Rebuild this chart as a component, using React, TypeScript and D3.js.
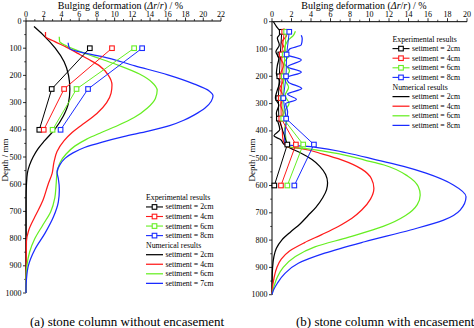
import React from "react";
import * as d3 from "d3";

// ---------- tick labels ----------
const xTicksA = [0, 2, 4, 6, 8, 10, 12, 14, 16, 18, 20, 22];
const xTicksB = [0, 2, 4, 6, 8, 10, 12, 14, 16, 18, 20];
const yTicks = [0, 100, 200, 300, 400, 500, 600, 700, 800, 900, 1000];

// ---------- panel (a) experimental: depth, and bulging per settlement ----------
const expDepthA = [100, 250, 400];
const expA2 = [7.2, 2.9, 1.5];
const expA4 = [9.7, 4.3, 2.0];
const expA6 = [12.2, 5.7, 3.0];
const expA8 = [13.1, 7.0, 3.9];

// ---------- panel (a) numerical: [depth, bulging] ----------
const numA2: [number, number][] = [[20,0.9],[50,1.9],[100,3.3],[150,4.3],[200,4.8],[250,4.95],[300,4.8],[350,4.2],[400,3.2],[440,2.1],[470,1.35],[500,0.8],[530,0.4],[560,0.15],[600,0.05],[650,0.01],[1000,0]];
const numA4: [number, number][] = [[40,2.2],[57,2.2],[75,3.2],[95,4.5],[120,5.9],[140,7.0],[165,8.3],[200,9.3],[235,9.7],[265,9.6],[300,9.1],[340,8.0],[380,6.4],[410,5.2],[440,4.3],[480,3.5],[520,3.15],[560,2.95],[600,2.5],[660,1.9],[720,1.0],[770,0.3],[810,0.05],[1000,0]];
const numA6: [number, number][] = [[58,3.75],[76,3.8],[92,4.6],[110,5.9],[130,7.6],[160,10.2],[195,12.8],[225,14.2],[255,14.8],[285,14.6],[320,13.7],[355,12.2],[385,10.3],[410,8.5],[435,6.8],[460,5.5],[490,4.5],[520,3.85],[560,3.5],[600,3.4],[650,3.25],[700,2.8],[750,1.9],[800,1.0],[850,0.4],[900,0.1],[940,0.01],[1000,0]];
const numA7: [number, number][] = [[80,4.75],[100,4.9],[112,5.8],[130,8.5],[165,12.3],[198,16.0],[232,19.0],[258,20.7],[275,21.1],[295,20.9],[320,20.2],[345,19.0],[365,17.8],[385,16.2],[405,13.8],[425,11.0],[445,8.6],[465,6.6],[485,5.3],[505,4.4],[530,3.8],[555,3.5],[580,3.65],[620,3.76],[665,3.65],[720,3.1],[780,2.15],[840,1.0],[900,0.26],[950,0.05],[980,0],[1000,0]];

// ---------- panel (b) experimental ----------
const expDepthB = [37, 120, 200, 280, 355, 450, 600];
const expB2 = [1.0, 0.85, 0.75, 0.65, 0.7, 1.57, 0.24];
const expB4 = [1.25, 1.0, 1.05, 0.9, 0.95, 2.45, 0.92];
const expB6 = [1.45, 1.3, 1.2, 1.1, 1.15, 3.2, 1.57];
const expB8 = [1.77, 1.5, 1.44, 1.16, 1.45, 4.3, 2.29];

// ---------- panel (b) numerical ----------
const numB2: [number, number][] = [[0,0.15],[20,0.5],[40,0.9],[60,0.55],[85,0.75],[110,0.4],[135,0.7],[160,0.55],[190,0.45],[220,0.8],[250,0.55],[280,0.35],[305,0.7],[335,0.45],[365,0.6],[395,0.8],[418,0.2],[432,0.9],[448,1.2],[462,1.8],[480,2.9],[505,4.1],[530,4.9],[560,5.5],[590,5.7],[615,5.6],[645,5.2],[680,4.5],[710,3.7],[740,2.9],[770,1.9],[800,1.0],[830,0.45],[860,0.2],[900,0.06],[950,0.01],[1000,0]];
const numB4: [number, number][] = [[25,1.2],[50,1.5],[75,1.0],[100,1.3],[130,0.85],[160,1.2],[190,0.9],[215,1.15],[245,0.8],[275,1.2],[305,0.9],[335,1.15],[365,0.85],[395,1.05],[425,1.1],[448,1.3],[458,1.5],[465,3.0],[485,5.2],[507,7.2],[540,9.2],[575,10.2],[610,10.45],[650,10.1],[690,9.2],[720,8.2],[750,6.8],[780,5.1],[810,3.3],[840,1.8],[870,0.95],[900,0.5],[940,0.2],[980,0.03],[1000,0]];
const numB6: [number, number][] = [[35,2.4],[50,2.2],[70,1.6],[100,1.3],[125,1.7],[150,1.25],[180,1.8],[210,1.3],[240,1.7],[270,1.35],[300,1.75],[330,1.3],[360,1.55],[390,1.3],[420,1.4],[448,1.5],[458,1.7],[465,3.5],[485,7.0],[507,9.5],[525,11.5],[565,13.9],[604,15.0],[635,15.2],[670,14.9],[710,13.7],[750,11.4],[790,7.8],[825,4.4],[860,2.4],[900,1.15],[935,0.55],[970,0.2],[1000,0]];
const numB8: [number, number][] = [[50,3.0],[62,3.1],[85,3.0],[100,1.8],[120,1.55],[140,3.0],[165,1.6],[185,3.0],[205,1.5],[222,1.7],[245,3.05],[265,1.6],[285,2.5],[300,1.4],[330,1.6],[360,1.5],[400,1.35],[430,1.3],[450,1.4],[460,4.5],[480,7.6],[507,10.8],[530,13.5],[555,15.8],[598,18.6],[641,19.9],[690,19.3],[727,17.6],[763,14.2],[806,9.5],[848,5.4],[885,2.7],[922,1.33],[958,0.55],[995,0.03],[1000,0]];

const expLabelsA = ["settment = 2cm", "settment = 4cm", "settment = 6cm", "settment = 8cm"];
const numLabelsA = ["settment = 2cm", "settment = 4cm", "settment = 6cm", "settment = 7cm"];
const numLabelsB = ["settment = 2cm", "settment = 4cm", "settment = 6cm", "settment = 8cm"];

const COLORS = ["#000000", "#ff1a1a", "#66ee22", "#1a2bff"];
const FONT = "'Liberation Serif', 'Times New Roman', serif";

type Pt = [number, number];

interface PanelProps {
  xMax: number;
  xTicks: number[];
  xRange: [number, number];
  yRange: [number, number];
  exp: number[][];
  expDepth: number[];
  num: Pt[][];
  expLabels: string[];
  numLabels: string[];
  legendX: number;
  legendY: number;
  legendStep: number;
  titleX: number;
  yLabelX: number;
  caption: string;
  captionX: number;
}

function Panel(p: PanelProps) {
  const x = d3.scaleLinear().domain([0, p.xMax]).range(p.xRange);
  const y = d3.scaleLinear().domain([0, 1000]).range(p.yRange);
  const x0 = p.xRange[0];
  const y0 = p.yRange[0];
  const line = d3
    .line<Pt>()
    .x((d) => x(d[1]))
    .y((d) => y(d[0]))
    .curve(d3.curveMonotoneY);
  const lineLin = d3
    .line<Pt>()
    .x((d) => x(d[1]))
    .y((d) => y(d[0]));
  const minor: number[] = [];
  for (let v = 1; v < p.xMax; v += 2) minor.push(v);
  const yMinor = [50, 150, 250, 350, 450, 550, 650, 750, 850, 950];
  const sq = 4.6;
  const lx = p.legendX;
  return (
    <g>
      {/* title */}
      <text x={p.titleX} y={9} fontSize={10} textAnchor="middle" fontFamily={FONT}>
        Bulging deformation (<tspan fontStyle="italic">Δr</tspan>/<tspan fontStyle="italic">r</tspan>) / %
      </text>
      {/* y label */}
      <text
        transform={`translate(${p.yLabelX},160) rotate(-90)`}
        fontSize={9}
        textAnchor="middle"
        dominantBaseline="central"
        fontFamily={FONT}
      >
        Depth / mm
      </text>
      {/* axes */}
      <line x1={x0} x2={p.xRange[1]} y1={y0} y2={y0} stroke="#000" strokeWidth={1} />
      <line x1={x0} x2={x0} y1={y0} y2={p.yRange[1]} stroke="#000" strokeWidth={1} />
      {p.xTicks.map((t) => (
        <g key={"xt" + t}>
          <line x1={x(t)} x2={x(t)} y1={y0} y2={y0 - 3.5} stroke="#000" strokeWidth={0.8} />
          <text x={x(t)} y={17} fontSize={8} textAnchor="middle" fontFamily={FONT}>
            {t}
          </text>
        </g>
      ))}
      {minor.map((t) => (
        <line key={"xm" + t} x1={x(t)} x2={x(t)} y1={y0} y2={y0 - 2} stroke="#000" strokeWidth={0.7} />
      ))}
      {yTicks.map((t) => (
        <g key={"yt" + t}>
          <line x1={x0} x2={x0 - 3} y1={y(t)} y2={y(t)} stroke="#000" strokeWidth={0.8} />
          <text x={x0 - 4.5} y={y(t)} fontSize={8} textAnchor="end" dominantBaseline="central" fontFamily={FONT}>
            {t}
          </text>
        </g>
      ))}
      {yMinor.map((t) => (
        <line key={"ym" + t} x1={x0} x2={x0 - 1.8} y1={y(t)} y2={y(t)} stroke="#000" strokeWidth={0.7} />
      ))}
      {/* numerical curves */}
      {p.num.map((s, i) => (
        <path key={"n" + i} d={line(s) || ""} fill="none" stroke={COLORS[i]} strokeWidth={1.25} />
      ))}
      {/* experimental */}
      {p.exp.map((vals, i) => {
        const pts: Pt[] = vals.map((v, j) => [p.expDepth[j], v]);
        return (
          <g key={"e" + i}>
            <path d={lineLin(pts) || ""} fill="none" stroke={COLORS[i]} strokeWidth={1} />
            {pts.map((d, j) => (
              <rect
                key={j}
                x={x(d[1]) - sq / 2}
                y={y(d[0]) - sq / 2}
                width={sq}
                height={sq}
                fill="#fff"
                stroke={COLORS[i]}
                strokeWidth={1.1}
              />
            ))}
          </g>
        );
      })}
      {/* legend */}
      <g fontFamily={FONT} fontSize={7.8}>
        <text x={lx} y={p.legendY} dominantBaseline="central">Experimental results</text>
        {p.expLabels.map((l, i) => {
          const yy = p.legendY + (i + 1) * p.legendStep;
          return (
            <g key={"le" + i}>
              <line x1={lx} x2={lx + 17} y1={yy} y2={yy} stroke={COLORS[i]} strokeWidth={1.1} />
              <rect x={lx + 8.5 - sq / 2} y={yy - sq / 2} width={sq} height={sq} fill="#fff" stroke={COLORS[i]} strokeWidth={1.1} />
              <text x={lx + 19.5} y={yy} dominantBaseline="central">{l}</text>
            </g>
          );
        })}
        <text x={lx} y={p.legendY + 5 * p.legendStep} dominantBaseline="central">Numerical results</text>
        {p.numLabels.map((l, i) => {
          const yy = p.legendY + (i + 6) * p.legendStep;
          return (
            <g key={"ln" + i}>
              <line x1={lx} x2={lx + 17} y1={yy} y2={yy} stroke={COLORS[i]} strokeWidth={1.25} />
              <text x={lx + 19.5} y={yy} dominantBaseline="central">{l}</text>
            </g>
          );
        })}
      </g>
      <text x={p.captionX} y={325.5} fontSize={13} fontFamily={FONT}>
        {p.caption}
      </text>
    </g>
  );
}

export default function App() {
  return (
    <div style={{ position: "absolute", left: 0, top: 0, width: 474, height: 328, background: "#fff" }}>
      <svg width={474} height={328} viewBox="0 0 474 328" style={{ display: "block" }}>
        <rect width={474} height={328} fill="#fff" />
        <Panel
          xMax={22}
          xTicks={xTicksA}
          xRange={[26, 221]}
          yRange={[21, 293]}
          exp={[expA2, expA4, expA6, expA8]}
          expDepth={expDepthA}
          num={[numA2, numA4, numA6, numA7]}
          expLabels={expLabelsA}
          numLabels={numLabelsA}
          legendX={146}
          legendY={197.4}
          legendStep={9.55}
          titleX={120.5}
          yLabelX={5}
          caption="(a) stone column without encasement"
          captionX={30}
        />
        <Panel
          xMax={20}
          xTicks={xTicksB}
          xRange={[272, 467]}
          yRange={[21.7, 294.7]}
          exp={[expB2, expB4, expB6, expB8]}
          expDepth={expDepthB}
          num={[numB2, numB4, numB6, numB8]}
          expLabels={expLabelsA}
          numLabels={numLabelsB}
          legendX={392.5}
          legendY={39}
          legendStep={9.6}
          titleX={364}
          yLabelX={252}
          caption="(b) stone column with encasement"
          captionX={296}
        />
      </svg>
    </div>
  );
}
